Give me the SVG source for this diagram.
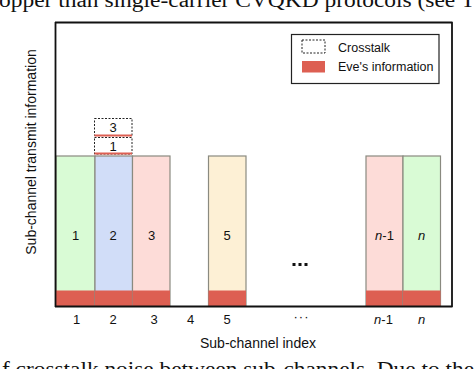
<svg xmlns="http://www.w3.org/2000/svg" width="474" height="369" viewBox="0 0 474 369">
<style>
.sans{font-family:"Liberation Sans",Arial,sans-serif;fill:#111}
.lbl{font-size:13px;text-anchor:middle}
.serif{font-family:"Liberation Serif","Times New Roman",serif;fill:#111;font-size:20px}
.bar{stroke:#8a8a80;stroke-width:1.2}
.eve{fill:#dd5f52}
.dash{fill:#fff;stroke:#222;stroke-width:1;stroke-dasharray:2 1.5}
</style>
<rect width="474" height="369" fill="#fff"/>
<text class="serif" x="-1" y="7" textLength="476" lengthAdjust="spacingAndGlyphs">opper than single-carrier CVQKD protocols (see T</text>
<text class="serif" x="2" y="376" textLength="472" lengthAdjust="spacingAndGlyphs">f crosstalk noise between sub-channels. Due to the</text>

<g id="bar1"><rect class="bar" x="56" y="156" width="39" height="150" fill="#d9fbd5"/><rect class="eve" x="56" y="290.5" width="39" height="15.5"/><text class="sans lbl" x="75.5" y="240">1</text></g>
<g id="bar2"><rect class="bar" x="95" y="156" width="37.5" height="150" fill="#d1ddf8"/><rect class="eve" x="95" y="290.5" width="37.5" height="15.5"/><text class="sans lbl" x="113" y="240">2</text></g>
<g id="bar3"><rect class="bar" x="132.5" y="156" width="37.5" height="150" fill="#fddcd8"/><rect class="eve" x="132.5" y="290.5" width="37.5" height="15.5"/><text class="sans lbl" x="151.5" y="240">3</text></g>
<g id="bar5"><rect class="bar" x="208.5" y="156" width="37.5" height="150" fill="#fdf0d5"/><rect class="eve" x="208.5" y="290.5" width="37.5" height="15.5"/><text class="sans lbl" x="227" y="240">5</text></g>
<g id="barn1"><rect class="bar" x="366" y="156" width="37" height="150" fill="#fddcd8"/><rect class="eve" x="366" y="290.5" width="37" height="15.5"/><text class="sans lbl" x="384.5" y="240"><tspan font-style="italic">n</tspan>-1</text></g>
<g id="barn"><rect class="bar" x="403" y="156" width="37.5" height="150" fill="#d9fbd5"/><rect class="eve" x="403" y="290.5" width="37.5" height="15.5"/><text class="sans lbl" x="421.5" y="240" font-style="italic">n</text></g>

<g id="crosstalk1"><rect class="dash" x="94.5" y="137.5" width="37.5" height="16.5"/><rect class="eve" x="94.5" y="152.5" width="37.5" height="2"/><text class="sans lbl" x="113" y="151">1</text></g>
<g id="crosstalk3"><rect class="dash" x="94.5" y="118.5" width="37.5" height="17"/><rect class="eve" x="94.5" y="134.5" width="37.5" height="2"/><text class="sans lbl" x="113" y="132">3</text></g>

<g id="dots" fill="#111"><rect x="292.5" y="263" width="3" height="3"/><rect x="298.5" y="263" width="3" height="3"/><rect x="304.5" y="263" width="3" height="3"/></g>

<g id="axes"><path d="M55.5 22 V307 M55 306.5 H452.5 M452 22 V307 M55 22.5 H452.5" fill="none" stroke="#111" stroke-width="1.8"/></g>

<g id="legend"><rect x="291.5" y="34.5" width="147.5" height="49" fill="#fff" stroke="#222" stroke-width="1.2"/>
<rect class="dash" x="302" y="40" width="23" height="13"/>
<rect class="eve" x="302" y="61" width="23" height="11.5"/>
<text class="sans" x="338" y="52" font-size="12.5">Crosstalk</text>
<text class="sans" x="338" y="71" font-size="12.5">Eve's information</text></g>

<g id="ticks">
<text class="sans lbl" x="76.5" y="324">1</text>
<text class="sans lbl" x="113" y="324">2</text>
<text class="sans lbl" x="154" y="324">3</text>
<text class="sans lbl" x="190.5" y="324">4</text>
<text class="sans lbl" x="227" y="324">5</text>
<text class="sans lbl" x="301.5" y="321" letter-spacing="1">···</text>
<text class="sans lbl" x="383.5" y="324"><tspan font-style="italic">n</tspan>-1</text>
<text class="sans lbl" x="421.5" y="324" font-style="italic">n</text>
</g>
<text class="sans" x="258" y="348" font-size="14" text-anchor="middle">Sub-channel index</text>
<text class="sans" transform="translate(36 152) rotate(-90)" font-size="14" text-anchor="middle">Sub-channel transmit information</text>
</svg>
